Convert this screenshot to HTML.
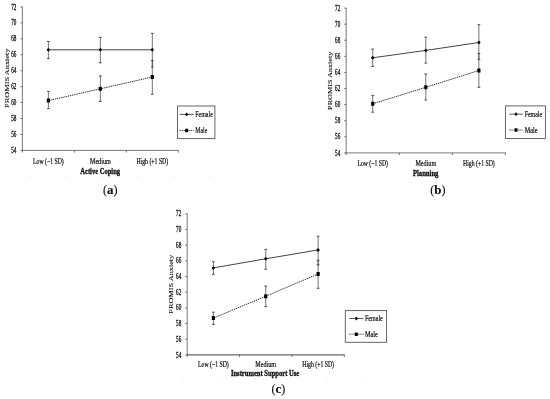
<!DOCTYPE html>
<html lang="en">
<head>
<meta charset="utf-8">
<title>PROMIS Anxiety interaction plots</title>
<style>
html,body{margin:0;padding:0;background:#fff;}
body{width:550px;height:399px;overflow:hidden;}
svg{display:block;font-family:"Liberation Serif", serif;fill:#111;}
svg text{fill:#111;stroke:#111;stroke-width:.22px;}
svg text.cap{stroke-width:.12px;}
svg text.b{stroke-width:.32px;}
svg text.t{stroke-width:.3px;}
svg text.yl{stroke-width:.1px;}
</style>
</head>
<body>
<svg width="550" height="399" viewBox="0 0 550 399">
<rect width="550" height="399" fill="#fff"/>
<g id="chart-a">
<line x1="22.4" y1="6.60" x2="22.4" y2="150.90" stroke="#555" stroke-width="0.8"/>
<line x1="22.00" y1="150.4" x2="178.70" y2="150.4" stroke="#555" stroke-width="0.8"/>
<line x1="20.40" y1="6.90" x2="22.4" y2="6.90" stroke="#555" stroke-width="0.8"/>
<text x="16.40" y="9.50" class="t" font-size="7.5" text-anchor="end" textLength="5.1" lengthAdjust="spacingAndGlyphs">72</text>
<line x1="20.40" y1="22.84" x2="22.4" y2="22.84" stroke="#555" stroke-width="0.8"/>
<text x="16.40" y="25.44" class="t" font-size="7.5" text-anchor="end" textLength="5.1" lengthAdjust="spacingAndGlyphs">70</text>
<line x1="20.40" y1="38.79" x2="22.4" y2="38.79" stroke="#555" stroke-width="0.8"/>
<text x="16.40" y="41.39" class="t" font-size="7.5" text-anchor="end" textLength="5.1" lengthAdjust="spacingAndGlyphs">68</text>
<line x1="20.40" y1="54.73" x2="22.4" y2="54.73" stroke="#555" stroke-width="0.8"/>
<text x="16.40" y="57.33" class="t" font-size="7.5" text-anchor="end" textLength="5.1" lengthAdjust="spacingAndGlyphs">66</text>
<line x1="20.40" y1="70.68" x2="22.4" y2="70.68" stroke="#555" stroke-width="0.8"/>
<text x="16.40" y="73.28" class="t" font-size="7.5" text-anchor="end" textLength="5.1" lengthAdjust="spacingAndGlyphs">64</text>
<line x1="20.40" y1="86.62" x2="22.4" y2="86.62" stroke="#555" stroke-width="0.8"/>
<text x="16.40" y="89.22" class="t" font-size="7.5" text-anchor="end" textLength="5.1" lengthAdjust="spacingAndGlyphs">62</text>
<line x1="20.40" y1="102.57" x2="22.4" y2="102.57" stroke="#555" stroke-width="0.8"/>
<text x="16.40" y="105.17" class="t" font-size="7.5" text-anchor="end" textLength="5.1" lengthAdjust="spacingAndGlyphs">60</text>
<line x1="20.40" y1="118.51" x2="22.4" y2="118.51" stroke="#555" stroke-width="0.8"/>
<text x="16.40" y="121.11" class="t" font-size="7.5" text-anchor="end" textLength="5.1" lengthAdjust="spacingAndGlyphs">58</text>
<line x1="20.40" y1="134.46" x2="22.4" y2="134.46" stroke="#555" stroke-width="0.8"/>
<text x="16.40" y="137.06" class="t" font-size="7.5" text-anchor="end" textLength="5.1" lengthAdjust="spacingAndGlyphs">56</text>
<line x1="20.40" y1="150.40" x2="22.4" y2="150.40" stroke="#555" stroke-width="0.8"/>
<text x="16.40" y="153.00" class="t" font-size="7.5" text-anchor="end" textLength="5.1" lengthAdjust="spacingAndGlyphs">54</text>
<line x1="22.40" y1="150.4" x2="22.40" y2="152.60" stroke="#555" stroke-width="0.8"/>
<line x1="74.37" y1="150.4" x2="74.37" y2="152.60" stroke="#555" stroke-width="0.8"/>
<line x1="126.33" y1="150.4" x2="126.33" y2="152.60" stroke="#555" stroke-width="0.8"/>
<line x1="178.30" y1="150.4" x2="178.30" y2="152.60" stroke="#555" stroke-width="0.8"/>
<text x="48.38" y="163.6" font-size="7.5" text-anchor="middle" textLength="30.6" lengthAdjust="spacingAndGlyphs">Low (−1 SD)</text>
<text x="100.35" y="163.6" font-size="7.5" text-anchor="middle" textLength="20.8" lengthAdjust="spacingAndGlyphs">Medium</text>
<text x="152.32" y="163.6" font-size="7.5" text-anchor="middle" textLength="31.8" lengthAdjust="spacingAndGlyphs">High (+1 SD)</text>
<text x="100.2" y="173.7" font-size="7.8" font-weight="bold" class="b" text-anchor="middle" textLength="39.8" lengthAdjust="spacingAndGlyphs">Active Coping</text>
<text transform="translate(8.5,78.2) rotate(-90)" class="yl" font-size="7.0" text-anchor="middle" textLength="59.5" lengthAdjust="spacingAndGlyphs">PROMIS Anxiety</text>
<line x1="48.38" y1="41.50" x2="48.38" y2="58.60" stroke="#3a3a3a" stroke-width="0.7"/><line x1="46.98" y1="41.50" x2="49.78" y2="41.50" stroke="#2a2a2a" stroke-width="0.8"/><line x1="46.98" y1="58.60" x2="49.78" y2="58.60" stroke="#2a2a2a" stroke-width="0.8"/>
<line x1="48.38" y1="91.50" x2="48.38" y2="108.60" stroke="#3a3a3a" stroke-width="0.7"/><line x1="46.98" y1="91.50" x2="49.78" y2="91.50" stroke="#2a2a2a" stroke-width="0.8"/><line x1="46.98" y1="108.60" x2="49.78" y2="108.60" stroke="#2a2a2a" stroke-width="0.8"/>
<line x1="100.35" y1="37.40" x2="100.35" y2="62.80" stroke="#3a3a3a" stroke-width="0.7"/><line x1="98.95" y1="37.40" x2="101.75" y2="37.40" stroke="#2a2a2a" stroke-width="0.8"/><line x1="98.95" y1="62.80" x2="101.75" y2="62.80" stroke="#2a2a2a" stroke-width="0.8"/>
<line x1="100.35" y1="75.90" x2="100.35" y2="101.40" stroke="#3a3a3a" stroke-width="0.7"/><line x1="98.95" y1="75.90" x2="101.75" y2="75.90" stroke="#2a2a2a" stroke-width="0.8"/><line x1="98.95" y1="101.40" x2="101.75" y2="101.40" stroke="#2a2a2a" stroke-width="0.8"/>
<line x1="152.32" y1="33.30" x2="152.32" y2="66.90" stroke="#3a3a3a" stroke-width="0.7"/><line x1="150.92" y1="33.30" x2="153.72" y2="33.30" stroke="#2a2a2a" stroke-width="0.8"/><line x1="150.92" y1="66.90" x2="153.72" y2="66.90" stroke="#2a2a2a" stroke-width="0.8"/>
<line x1="152.32" y1="60.50" x2="152.32" y2="94.30" stroke="#3a3a3a" stroke-width="0.7"/><line x1="150.92" y1="60.50" x2="153.72" y2="60.50" stroke="#2a2a2a" stroke-width="0.8"/><line x1="150.92" y1="94.30" x2="153.72" y2="94.30" stroke="#2a2a2a" stroke-width="0.8"/>
<polyline points="48.38,49.80 100.35,49.80 152.32,49.80" fill="none" stroke="#444" stroke-width="1"/>
<polyline points="48.38,100.60 100.35,88.80 152.32,77.00" fill="none" stroke="#333" stroke-width="1" stroke-dasharray="1.4 0.8"/>
<polygon points="48.38,47.80 50.18,49.80 48.38,51.80 46.58,49.80" fill="#000"/>
<rect x="46.78" y="98.60" width="3.2" height="4.0" rx="0.5" fill="#000"/>
<polygon points="100.35,47.80 102.15,49.80 100.35,51.80 98.55,49.80" fill="#000"/>
<rect x="98.75" y="86.80" width="3.2" height="4.0" rx="0.5" fill="#000"/>
<polygon points="152.32,47.80 154.12,49.80 152.32,51.80 150.52,49.80" fill="#000"/>
<rect x="150.72" y="75.00" width="3.2" height="4.0" rx="0.5" fill="#000"/>
<rect x="177.5" y="106.0" width="37.40" height="32.60" fill="#fff" stroke="#555" stroke-width="0.9"/>
<line x1="179.6" y1="114.4" x2="193.7" y2="114.4" stroke="#444" stroke-width="0.9"/>
<polygon points="186.65,112.50 188.35,114.40 186.65,116.30 184.95,114.40" fill="#000"/>
<text x="195.3" y="116.80" font-size="8.0" textLength="17.5" lengthAdjust="spacingAndGlyphs">Female</text>
<line x1="179.6" y1="130.5" x2="193.7" y2="130.5" stroke="#333" stroke-width="0.9" stroke-dasharray="1.4 0.8"/>
<rect x="185.15" y="128.70" width="3" height="3.6" rx="0.4" fill="#000"/>
<text x="195.3" y="133.00" font-size="8.0" textLength="11.9" lengthAdjust="spacingAndGlyphs">Male</text>
<text x="110.2" y="194.2" class="cap" font-size="12" text-anchor="middle">(<tspan font-weight="bold" font-size="13">a</tspan>)</text>
<rect x="29.60" y="176.20" width="0.8" height="1.4" fill="#dcdcdc"/>
<rect x="65.60" y="176.20" width="0.8" height="1.4" fill="#dcdcdc"/>
<rect x="101.60" y="176.20" width="0.8" height="1.4" fill="#dcdcdc"/>
<rect x="137.60" y="176.20" width="0.8" height="1.4" fill="#dcdcdc"/>
<rect x="173.60" y="176.20" width="0.8" height="1.4" fill="#dcdcdc"/>
<rect x="209.60" y="176.20" width="0.8" height="1.4" fill="#dcdcdc"/>
</g>
<g id="chart-b">
<line x1="346.2" y1="7.80" x2="346.2" y2="153.40" stroke="#555" stroke-width="0.8"/>
<line x1="345.80" y1="152.9" x2="505.80" y2="152.9" stroke="#555" stroke-width="0.8"/>
<line x1="344.20" y1="8.10" x2="346.2" y2="8.10" stroke="#555" stroke-width="0.8"/>
<text x="340.20" y="10.70" class="t" font-size="7.5" text-anchor="end" textLength="5.1" lengthAdjust="spacingAndGlyphs">72</text>
<line x1="344.20" y1="24.19" x2="346.2" y2="24.19" stroke="#555" stroke-width="0.8"/>
<text x="340.20" y="26.79" class="t" font-size="7.5" text-anchor="end" textLength="5.1" lengthAdjust="spacingAndGlyphs">70</text>
<line x1="344.20" y1="40.28" x2="346.2" y2="40.28" stroke="#555" stroke-width="0.8"/>
<text x="340.20" y="42.88" class="t" font-size="7.5" text-anchor="end" textLength="5.1" lengthAdjust="spacingAndGlyphs">68</text>
<line x1="344.20" y1="56.37" x2="346.2" y2="56.37" stroke="#555" stroke-width="0.8"/>
<text x="340.20" y="58.97" class="t" font-size="7.5" text-anchor="end" textLength="5.1" lengthAdjust="spacingAndGlyphs">66</text>
<line x1="344.20" y1="72.46" x2="346.2" y2="72.46" stroke="#555" stroke-width="0.8"/>
<text x="340.20" y="75.06" class="t" font-size="7.5" text-anchor="end" textLength="5.1" lengthAdjust="spacingAndGlyphs">64</text>
<line x1="344.20" y1="88.54" x2="346.2" y2="88.54" stroke="#555" stroke-width="0.8"/>
<text x="340.20" y="91.14" class="t" font-size="7.5" text-anchor="end" textLength="5.1" lengthAdjust="spacingAndGlyphs">62</text>
<line x1="344.20" y1="104.63" x2="346.2" y2="104.63" stroke="#555" stroke-width="0.8"/>
<text x="340.20" y="107.23" class="t" font-size="7.5" text-anchor="end" textLength="5.1" lengthAdjust="spacingAndGlyphs">60</text>
<line x1="344.20" y1="120.72" x2="346.2" y2="120.72" stroke="#555" stroke-width="0.8"/>
<text x="340.20" y="123.32" class="t" font-size="7.5" text-anchor="end" textLength="5.1" lengthAdjust="spacingAndGlyphs">58</text>
<line x1="344.20" y1="136.81" x2="346.2" y2="136.81" stroke="#555" stroke-width="0.8"/>
<text x="340.20" y="139.41" class="t" font-size="7.5" text-anchor="end" textLength="5.1" lengthAdjust="spacingAndGlyphs">56</text>
<line x1="344.20" y1="152.90" x2="346.2" y2="152.90" stroke="#555" stroke-width="0.8"/>
<text x="340.20" y="155.50" class="t" font-size="7.5" text-anchor="end" textLength="5.1" lengthAdjust="spacingAndGlyphs">54</text>
<line x1="346.20" y1="152.9" x2="346.20" y2="155.10" stroke="#555" stroke-width="0.8"/>
<line x1="399.27" y1="152.9" x2="399.27" y2="155.10" stroke="#555" stroke-width="0.8"/>
<line x1="452.33" y1="152.9" x2="452.33" y2="155.10" stroke="#555" stroke-width="0.8"/>
<line x1="505.40" y1="152.9" x2="505.40" y2="155.10" stroke="#555" stroke-width="0.8"/>
<text x="372.73" y="165.8" font-size="7.5" text-anchor="middle" textLength="30.6" lengthAdjust="spacingAndGlyphs">Low (−1 SD)</text>
<text x="425.80" y="165.8" font-size="7.5" text-anchor="middle" textLength="20.8" lengthAdjust="spacingAndGlyphs">Medium</text>
<text x="478.87" y="165.8" font-size="7.5" text-anchor="middle" textLength="31.8" lengthAdjust="spacingAndGlyphs">High (+1 SD)</text>
<text x="425.7" y="176.0" font-size="7.8" font-weight="bold" class="b" text-anchor="middle" textLength="25.5" lengthAdjust="spacingAndGlyphs">Planning</text>
<text transform="translate(332.2,80.8) rotate(-90)" class="yl" font-size="7.0" text-anchor="middle" textLength="58.2" lengthAdjust="spacingAndGlyphs">PROMIS Anxiety</text>
<line x1="372.73" y1="49.10" x2="372.73" y2="66.40" stroke="#3a3a3a" stroke-width="0.7"/><line x1="371.33" y1="49.10" x2="374.13" y2="49.10" stroke="#2a2a2a" stroke-width="0.8"/><line x1="371.33" y1="66.40" x2="374.13" y2="66.40" stroke="#2a2a2a" stroke-width="0.8"/>
<line x1="372.73" y1="95.40" x2="372.73" y2="112.20" stroke="#3a3a3a" stroke-width="0.7"/><line x1="371.33" y1="95.40" x2="374.13" y2="95.40" stroke="#2a2a2a" stroke-width="0.8"/><line x1="371.33" y1="112.20" x2="374.13" y2="112.20" stroke="#2a2a2a" stroke-width="0.8"/>
<line x1="425.80" y1="37.20" x2="425.80" y2="63.10" stroke="#3a3a3a" stroke-width="0.7"/><line x1="424.40" y1="37.20" x2="427.20" y2="37.20" stroke="#2a2a2a" stroke-width="0.8"/><line x1="424.40" y1="63.10" x2="427.20" y2="63.10" stroke="#2a2a2a" stroke-width="0.8"/>
<line x1="425.80" y1="74.00" x2="425.80" y2="100.00" stroke="#3a3a3a" stroke-width="0.7"/><line x1="424.40" y1="74.00" x2="427.20" y2="74.00" stroke="#2a2a2a" stroke-width="0.8"/><line x1="424.40" y1="100.00" x2="427.20" y2="100.00" stroke="#2a2a2a" stroke-width="0.8"/>
<line x1="478.87" y1="24.70" x2="478.87" y2="59.30" stroke="#3a3a3a" stroke-width="0.7"/><line x1="477.47" y1="24.70" x2="480.27" y2="24.70" stroke="#2a2a2a" stroke-width="0.8"/><line x1="477.47" y1="59.30" x2="480.27" y2="59.30" stroke="#2a2a2a" stroke-width="0.8"/>
<line x1="478.87" y1="53.40" x2="478.87" y2="87.30" stroke="#3a3a3a" stroke-width="0.7"/><line x1="477.47" y1="53.40" x2="480.27" y2="53.40" stroke="#2a2a2a" stroke-width="0.8"/><line x1="477.47" y1="87.30" x2="480.27" y2="87.30" stroke="#2a2a2a" stroke-width="0.8"/>
<polyline points="372.73,57.80 425.80,50.40 478.87,42.50" fill="none" stroke="#444" stroke-width="1"/>
<polyline points="372.73,103.80 425.80,87.30 478.87,70.50" fill="none" stroke="#333" stroke-width="1" stroke-dasharray="1.4 0.8"/>
<polygon points="372.73,55.80 374.53,57.80 372.73,59.80 370.93,57.80" fill="#000"/>
<rect x="371.13" y="101.80" width="3.2" height="4.0" rx="0.5" fill="#000"/>
<polygon points="425.80,48.40 427.60,50.40 425.80,52.40 424.00,50.40" fill="#000"/>
<rect x="424.20" y="85.30" width="3.2" height="4.0" rx="0.5" fill="#000"/>
<polygon points="478.87,40.50 480.67,42.50 478.87,44.50 477.07,42.50" fill="#000"/>
<rect x="477.27" y="68.50" width="3.2" height="4.0" rx="0.5" fill="#000"/>
<rect x="505.4" y="105.9" width="40.00" height="32.60" fill="#fff" stroke="#555" stroke-width="0.9"/>
<line x1="509.2" y1="114.2" x2="522.8" y2="114.2" stroke="#444" stroke-width="0.9"/>
<polygon points="516.00,112.30 517.70,114.20 516.00,116.10 514.30,114.20" fill="#000"/>
<text x="524.7" y="116.60" font-size="8.0" textLength="17.4" lengthAdjust="spacingAndGlyphs">Female</text>
<line x1="509.2" y1="130.0" x2="522.8" y2="130.0" stroke="#333" stroke-width="0.9" stroke-dasharray="1.4 0.8"/>
<rect x="514.50" y="128.20" width="3" height="3.6" rx="0.4" fill="#000"/>
<text x="524.7" y="132.50" font-size="8.0" textLength="12.7" lengthAdjust="spacingAndGlyphs">Male</text>
<text x="437.8" y="194.3" class="cap" font-size="12" text-anchor="middle">(<tspan font-weight="bold" font-size="13">b</tspan>)</text>
</g>
<g id="chart-c">
<line x1="187.2" y1="213.50" x2="187.2" y2="355.40" stroke="#555" stroke-width="0.8"/>
<line x1="186.80" y1="354.9" x2="344.70" y2="354.9" stroke="#666" stroke-width="1.1"/>
<line x1="185.20" y1="213.80" x2="187.2" y2="213.80" stroke="#555" stroke-width="0.8"/>
<text x="181.20" y="216.40" class="t" font-size="7.5" text-anchor="end" textLength="5.1" lengthAdjust="spacingAndGlyphs">72</text>
<line x1="185.20" y1="229.48" x2="187.2" y2="229.48" stroke="#555" stroke-width="0.8"/>
<text x="181.20" y="232.08" class="t" font-size="7.5" text-anchor="end" textLength="5.1" lengthAdjust="spacingAndGlyphs">70</text>
<line x1="185.20" y1="245.16" x2="187.2" y2="245.16" stroke="#555" stroke-width="0.8"/>
<text x="181.20" y="247.76" class="t" font-size="7.5" text-anchor="end" textLength="5.1" lengthAdjust="spacingAndGlyphs">68</text>
<line x1="185.20" y1="260.83" x2="187.2" y2="260.83" stroke="#555" stroke-width="0.8"/>
<text x="181.20" y="263.43" class="t" font-size="7.5" text-anchor="end" textLength="5.1" lengthAdjust="spacingAndGlyphs">66</text>
<line x1="185.20" y1="276.51" x2="187.2" y2="276.51" stroke="#555" stroke-width="0.8"/>
<text x="181.20" y="279.11" class="t" font-size="7.5" text-anchor="end" textLength="5.1" lengthAdjust="spacingAndGlyphs">64</text>
<line x1="185.20" y1="292.19" x2="187.2" y2="292.19" stroke="#555" stroke-width="0.8"/>
<text x="181.20" y="294.79" class="t" font-size="7.5" text-anchor="end" textLength="5.1" lengthAdjust="spacingAndGlyphs">62</text>
<line x1="185.20" y1="307.87" x2="187.2" y2="307.87" stroke="#555" stroke-width="0.8"/>
<text x="181.20" y="310.47" class="t" font-size="7.5" text-anchor="end" textLength="5.1" lengthAdjust="spacingAndGlyphs">60</text>
<line x1="185.20" y1="323.54" x2="187.2" y2="323.54" stroke="#555" stroke-width="0.8"/>
<text x="181.20" y="326.14" class="t" font-size="7.5" text-anchor="end" textLength="5.1" lengthAdjust="spacingAndGlyphs">58</text>
<line x1="185.20" y1="339.22" x2="187.2" y2="339.22" stroke="#555" stroke-width="0.8"/>
<text x="181.20" y="341.82" class="t" font-size="7.5" text-anchor="end" textLength="5.1" lengthAdjust="spacingAndGlyphs">56</text>
<line x1="185.20" y1="354.90" x2="187.2" y2="354.90" stroke="#555" stroke-width="0.8"/>
<text x="181.20" y="357.50" class="t" font-size="7.5" text-anchor="end" textLength="5.1" lengthAdjust="spacingAndGlyphs">54</text>
<line x1="187.20" y1="354.9" x2="187.20" y2="357.10" stroke="#555" stroke-width="0.8"/>
<line x1="239.57" y1="354.9" x2="239.57" y2="357.10" stroke="#555" stroke-width="0.8"/>
<line x1="291.93" y1="354.9" x2="291.93" y2="357.10" stroke="#555" stroke-width="0.8"/>
<line x1="344.30" y1="354.9" x2="344.30" y2="357.10" stroke="#555" stroke-width="0.8"/>
<text x="213.38" y="367.0" font-size="7.5" text-anchor="middle" textLength="30.6" lengthAdjust="spacingAndGlyphs">Low (−1 SD)</text>
<text x="265.75" y="367.0" font-size="7.5" text-anchor="middle" textLength="20.8" lengthAdjust="spacingAndGlyphs">Medium</text>
<text x="318.12" y="367.0" font-size="7.5" text-anchor="middle" textLength="31.8" lengthAdjust="spacingAndGlyphs">High (+1 SD)</text>
<text x="265.1" y="376.3" font-size="7.8" font-weight="bold" class="b" text-anchor="middle" textLength="68.4" lengthAdjust="spacingAndGlyphs">Instrument Support Use</text>
<text transform="translate(172.7,284.2) rotate(-90)" class="yl" font-size="7.0" text-anchor="middle" textLength="59" lengthAdjust="spacingAndGlyphs">PROMIS Anxiety</text>
<line x1="213.38" y1="261.80" x2="213.38" y2="274.30" stroke="#3a3a3a" stroke-width="0.7"/><line x1="211.98" y1="261.80" x2="214.78" y2="261.80" stroke="#2a2a2a" stroke-width="0.8"/><line x1="211.98" y1="274.30" x2="214.78" y2="274.30" stroke="#2a2a2a" stroke-width="0.8"/>
<line x1="213.38" y1="312.20" x2="213.38" y2="324.40" stroke="#3a3a3a" stroke-width="0.7"/><line x1="211.98" y1="312.20" x2="214.78" y2="312.20" stroke="#2a2a2a" stroke-width="0.8"/><line x1="211.98" y1="324.40" x2="214.78" y2="324.40" stroke="#2a2a2a" stroke-width="0.8"/>
<line x1="265.75" y1="249.40" x2="265.75" y2="269.20" stroke="#3a3a3a" stroke-width="0.7"/><line x1="264.35" y1="249.40" x2="267.15" y2="249.40" stroke="#2a2a2a" stroke-width="0.8"/><line x1="264.35" y1="269.20" x2="267.15" y2="269.20" stroke="#2a2a2a" stroke-width="0.8"/>
<line x1="265.75" y1="286.00" x2="265.75" y2="306.60" stroke="#3a3a3a" stroke-width="0.7"/><line x1="264.35" y1="286.00" x2="267.15" y2="286.00" stroke="#2a2a2a" stroke-width="0.8"/><line x1="264.35" y1="306.60" x2="267.15" y2="306.60" stroke="#2a2a2a" stroke-width="0.8"/>
<line x1="318.12" y1="236.10" x2="318.12" y2="264.90" stroke="#3a3a3a" stroke-width="0.7"/><line x1="316.72" y1="236.10" x2="319.52" y2="236.10" stroke="#2a2a2a" stroke-width="0.8"/><line x1="316.72" y1="264.90" x2="319.52" y2="264.90" stroke="#2a2a2a" stroke-width="0.8"/>
<line x1="318.12" y1="260.30" x2="318.12" y2="288.30" stroke="#3a3a3a" stroke-width="0.7"/><line x1="316.72" y1="260.30" x2="319.52" y2="260.30" stroke="#2a2a2a" stroke-width="0.8"/><line x1="316.72" y1="288.30" x2="319.52" y2="288.30" stroke="#2a2a2a" stroke-width="0.8"/>
<polyline points="213.38,267.90 265.75,258.80 318.12,249.90" fill="none" stroke="#444" stroke-width="1"/>
<polyline points="213.38,318.10 265.75,296.20 318.12,274.00" fill="none" stroke="#333" stroke-width="1" stroke-dasharray="1.4 0.8"/>
<polygon points="213.38,265.90 215.18,267.90 213.38,269.90 211.58,267.90" fill="#000"/>
<rect x="211.78" y="316.10" width="3.2" height="4.0" rx="0.5" fill="#000"/>
<polygon points="265.75,256.80 267.55,258.80 265.75,260.80 263.95,258.80" fill="#000"/>
<rect x="264.15" y="294.20" width="3.2" height="4.0" rx="0.5" fill="#000"/>
<polygon points="318.12,247.90 319.92,249.90 318.12,251.90 316.32,249.90" fill="#000"/>
<rect x="316.52" y="272.00" width="3.2" height="4.0" rx="0.5" fill="#000"/>
<rect x="345.3" y="310.6" width="41.30" height="31.70" fill="#fff" stroke="#555" stroke-width="0.9"/>
<line x1="349.2" y1="318.5" x2="363.5" y2="318.5" stroke="#444" stroke-width="0.9"/>
<polygon points="356.35,316.60 358.05,318.50 356.35,320.40 354.65,318.50" fill="#000"/>
<text x="365.0" y="320.90" font-size="8.0" textLength="17.8" lengthAdjust="spacingAndGlyphs">Female</text>
<line x1="349.2" y1="334.2" x2="363.5" y2="334.2" stroke="#333" stroke-width="0.9" stroke-dasharray="1.4 0.8"/>
<rect x="354.85" y="332.40" width="3" height="3.6" rx="0.4" fill="#000"/>
<text x="365.0" y="336.70" font-size="8.0" textLength="12.9" lengthAdjust="spacingAndGlyphs">Male</text>
<text x="278.4" y="392.6" class="cap" font-size="12" text-anchor="middle">(<tspan font-weight="bold" font-size="13">c</tspan>)</text>
<rect x="182.60" y="377.80" width="0.8" height="1.4" fill="#dcdcdc"/>
<rect x="218.60" y="377.80" width="0.8" height="1.4" fill="#dcdcdc"/>
<rect x="254.60" y="377.80" width="0.8" height="1.4" fill="#dcdcdc"/>
<rect x="290.60" y="377.80" width="0.8" height="1.4" fill="#dcdcdc"/>
<rect x="326.60" y="377.80" width="0.8" height="1.4" fill="#dcdcdc"/>
<rect x="362.60" y="377.80" width="0.8" height="1.4" fill="#dcdcdc"/>
</g>
</svg>
</body>
</html>
